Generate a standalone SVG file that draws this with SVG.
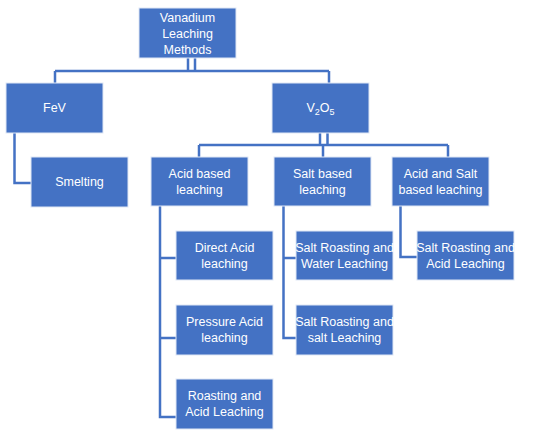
<svg xmlns="http://www.w3.org/2000/svg" width="550" height="436" viewBox="0 0 550 436">
<style>
.box{fill:#4472C4;stroke:#dfe7f5;stroke-width:1}
.t{font-family:"Liberation Sans",Arial,sans-serif;font-size:12.5px;fill:#fff;text-anchor:middle}
.c{fill:none;stroke:#4472C4;stroke-width:2.5}
</style>
<rect width="550" height="436" fill="#fff"/>
<g id="connectors">
<path class="c" d="M188,58V71M195,58V71M55,71H329M55,71V83M329,71V83"/>
<path class="c" d="M14.5,133V183H31"/>
<path class="c" d="M320,132V145M327.5,132V145M199,145H448M199,145V157M323,145V157M448,145V157"/>
<path class="c" d="M160,206V417H176M160,258H176M160,338H176"/>
<path class="c" d="M283.5,206V338H296M283.5,258H296"/>
<path class="c" d="M400.5,206V257H417"/>
</g>
<g id="root"><rect class="box" x="139" y="8" width="97" height="50"/>
<text class="t" x="187.5" y="21.5">Vanadium</text><text class="t" x="187.5" y="37.5">Leaching</text><text class="t" x="187.5" y="53.5">Methods</text></g>
<g id="fev"><rect class="box" x="6" y="83" width="97" height="50"/>
<text class="t" x="54.5" y="112">FeV</text></g>
<g id="v2o5"><rect class="box" x="272" y="83" width="97" height="50"/>
<text class="t" x="320.5" y="112">V<tspan font-size="9" dy="3">2</tspan><tspan dy="-3">O</tspan><tspan font-size="9" dy="3">5</tspan></text></g>
<g id="smelting"><rect class="box" x="31" y="157" width="97" height="50"/>
<text class="t" x="79.5" y="186">Smelting</text></g>
<g id="acid"><rect class="box" x="151" y="157" width="97" height="49"/>
<text class="t" x="199.5" y="178">Acid based</text><text class="t" x="199.5" y="194">leaching</text></g>
<g id="salt"><rect class="box" x="274" y="157" width="97" height="49"/>
<text class="t" x="322.5" y="178">Salt based</text><text class="t" x="322.5" y="194">leaching</text></g>
<g id="acidsalt"><rect class="box" x="392" y="157" width="97" height="49"/>
<text class="t" x="440.5" y="178">Acid and Salt</text><text class="t" x="440.5" y="194">based leaching</text></g>
<g id="direct"><rect class="box" x="176" y="231" width="97" height="49"/>
<text class="t" x="224.5" y="252">Direct Acid</text><text class="t" x="224.5" y="268">leaching</text></g>
<g id="pressure"><rect class="box" x="176" y="305" width="97" height="50"/>
<text class="t" x="224.5" y="326">Pressure Acid</text><text class="t" x="224.5" y="342">leaching</text></g>
<g id="roasting"><rect class="box" x="176" y="379" width="97" height="50"/>
<text class="t" x="224.5" y="400">Roasting and</text><text class="t" x="224.5" y="416">Acid Leaching</text></g>
<g id="srwl"><rect class="box" x="296" y="231" width="97" height="49"/>
<text class="t" x="344.5" y="252">Salt Roasting and</text><text class="t" x="344.5" y="268">Water Leaching</text></g>
<g id="srsl"><rect class="box" x="296" y="305" width="97" height="50"/>
<text class="t" x="344.5" y="326">Salt Roasting and</text><text class="t" x="344.5" y="342">salt Leaching</text></g>
<g id="sral"><rect class="box" x="417" y="231" width="97" height="49"/>
<text class="t" x="465.5" y="252">Salt Roasting and</text><text class="t" x="465.5" y="268">Acid Leaching</text></g>
</svg>
